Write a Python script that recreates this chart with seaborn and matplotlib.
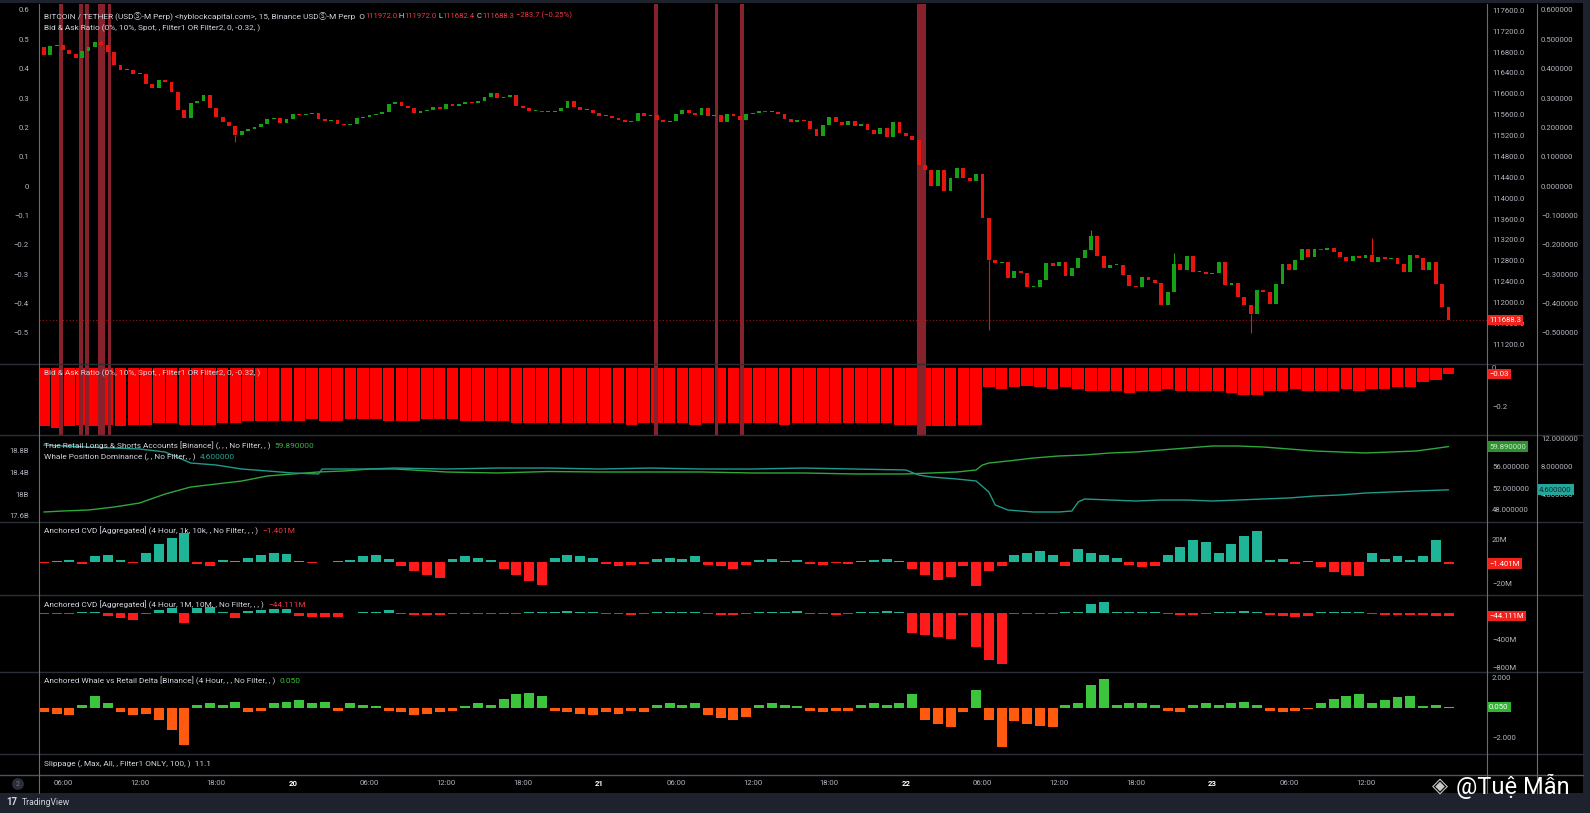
import numpy as np
import pandas as pd
import matplotlib
matplotlib.use("Agg")
import matplotlib.pyplot as plt
import matplotlib.transforms as mtrans
from matplotlib.lines import Line2D
from matplotlib.patches import Rectangle
import seaborn as sns

# ---------------- data (hours since 19th 00:00) ----------------
price_open_first = 116900.0
# 30-minute closes from t = 4.5 h onward
price_close = [
    116740, 116920, 116940, 116840, 116760, 116690, 116820, 116900,
    116990, 116940, 116800, 116550, 116460, 116460, 116380, 116380,
    116190, 116110, 116260, 116230, 116040, 115690, 115540, 115820,
    115860, 115980, 115730, 115560, 115460, 115380, 115210, 115290,
    115330, 115360, 115420, 115520, 115540, 115440, 115520, 115610,
    115590, 115610, 115630, 115520, 115480, 115500, 115420, 115400,
    115420, 115540, 115560, 115590, 115610, 115650, 115810, 115840,
    115770, 115730, 115630, 115670, 115690, 115750, 115710, 115810,
    115770, 115810, 115840, 115820, 115860, 115940, 116020, 115920,
    115940, 115980, 115770, 115730, 115670, 115670, 115650, 115650,
    115670, 115730, 115860, 115750, 115690, 115690, 115630, 115580,
    115580, 115540, 115500, 115460, 115480, 115630, 115580, 115590,
    115500, 115460, 115480, 115610, 115690, 115630, 115590, 115730,
    115580, 115590, 115460, 115610, 115580, 115500, 115610, 115630,
    115670, 115650, 115650, 115610, 115520, 115460, 115500, 115480,
    115330, 115190, 115400, 115560, 115460, 115400, 115480, 115380,
    115420, 115310, 115230, 115350, 115170, 115460, 115250, 115190,
    115120, 114640, 114540, 114230, 114540, 114140, 114390, 114580,
    114390, 114330, 114460, 113620, 112820, 112760, 112780, 112470,
    112610, 112570, 112300, 112300, 112430, 112760, 112700, 112780,
    112510, 112660, 112850, 113010, 113280, 112890, 112660, 112720,
    112720, 112530, 112320, 112300, 112490, 112430, 112380, 111950,
    112200, 112740, 112630, 112890, 112590, 112590, 112550, 112570,
    112780, 112340, 112380, 112110, 111950, 111780, 112240, 112200,
    111970, 112360, 112740, 112630, 112820, 113030, 112870, 113030,
    113010, 113050, 112970, 112870, 112800, 112890, 112850, 112910,
    112780, 112870, 112840, 112850, 112740, 112590, 112910, 112850,
    112630, 112780, 112360, 111920, 111670,
]
spike_times = [9.0, 19.5, 78.5, 86.5, 93.0, 99.0, 108.5]
spike_prices = [117030, 115080, 111470, 113390, 112950, 111420, 113240]

signal_start = [5.65, 7.25, 7.72, 8.74, 9.52, 52.28, 57.06, 59.00, 72.87]
signal_end = [5.98, 7.57, 8.03, 9.29, 9.76, 52.59, 57.29, 59.33, 73.58]

# hourly values from t = 4.5 h onward
bidask_ratio = [
    -0.30, -0.31, -0.30, -0.29, -0.30, -0.29, -0.30, -0.29,
    -0.29, -0.28, -0.28, -0.29, -0.29, -0.29, -0.28, -0.28,
    -0.27, -0.27, -0.27, -0.27, -0.27, -0.26, -0.27, -0.27,
    -0.26, -0.26, -0.26, -0.27, -0.27, -0.27, -0.26, -0.26,
    -0.26, -0.27, -0.27, -0.27, -0.27, -0.28, -0.28, -0.28,
    -0.28, -0.28, -0.28, -0.28, -0.28, -0.28, -0.29, -0.28,
    -0.28, -0.28, -0.28, -0.29, -0.28, -0.28, -0.28, -0.28,
    -0.28, -0.28, -0.29, -0.28, -0.28, -0.28, -0.28, -0.28,
    -0.28, -0.28, -0.28, -0.29, -0.29, -0.30, -0.30, -0.30,
    -0.29, -0.29, -0.10, -0.11, -0.10, -0.09, -0.10, -0.11,
    -0.10, -0.11, -0.12, -0.12, -0.12, -0.13, -0.12, -0.12,
    -0.11, -0.12, -0.12, -0.12, -0.12, -0.13, -0.14, -0.14,
    -0.12, -0.12, -0.11, -0.12, -0.12, -0.12, -0.11, -0.12,
    -0.11, -0.11, -0.10, -0.10, -0.07, -0.06, -0.03,
]

retail_t = [4.5, 6, 8, 10, 12, 14, 16, 18, 20, 22, 24, 26, 28, 30, 32, 36, 40, 44,
            48, 52, 56, 60, 64, 68, 72, 74, 76, 77.5, 78, 78.5, 80, 82, 84, 86, 88,
            90, 92, 94, 96, 98, 100, 102, 104, 106, 108, 110, 112, 114.5]
retail_v = [47.43, 47.62, 47.81, 48.38, 49.14, 50.86, 52.19, 52.76, 53.33, 54.29,
            54.67, 55.05, 55.24, 55.62, 55.62, 55.05, 54.86, 55.14, 55.05, 55.05,
            55.05, 54.86, 54.86, 54.67, 54.67, 54.86, 55.05, 55.43, 56.38, 56.76,
            57.14, 57.71, 58.10, 58.29, 58.67, 58.86, 59.24, 59.62, 60.00, 60.00,
            59.81, 59.43, 59.05, 58.86, 58.67, 58.86, 59.05, 59.89]

whale_t = [4.5, 6, 8, 10, 12, 14, 16, 18, 20, 22, 24, 26, 26.3, 28, 30, 32, 36, 40,
           44, 48, 52, 56, 60, 64, 68, 72, 73, 74, 76, 77.5, 78.5, 79, 80, 82, 84,
           85, 85.5, 86, 88, 90, 92, 94, 96, 98, 100, 102, 104, 106, 108, 110, 112, 114.5]
whale_v = [11.0, 10.86, 10.71, 10.57, 10.43, 10.0, 8.43, 8.14, 7.57, 7.29,
           7.0, 6.86, 7.57, 7.57, 7.57, 7.71, 7.57, 7.71, 7.71, 7.57,
           7.71, 7.57, 7.57, 7.71, 7.57, 7.43, 6.71, 6.43, 6.14, 5.86,
           4.29, 2.43, 1.71, 1.43, 1.43, 1.57, 2.86, 3.29, 3.14, 3.0,
           3.14, 3.14, 3.0, 3.14, 3.29, 3.43, 3.71, 3.86, 4.14, 4.29,
           4.43, 4.6]

cvd_small_m = [
    -1, 1, 2, -2, 5, 6, 2, -1, 8, 16, 22, 26, -2, -4, 2, 1,
    4, 6, 8, 7, 1, -1, 0, 1, 2, 5, 6, 3, -4, -8, -12, -15,
    3, 5, 4, 2, -6, -12, -17, -21, 4, 6, 5, 4, -2, -4, -3, -2,
    3, 4, 3, 5, -3, -4, -6, -3, 2, 3, 1, 2, -2, -3, -1, -2,
    1, 2, 3, 1, -6, -12, -16, -14, -4, -22, -8, -4, 6, 8, 10, 6,
    -4, 12, 8, 6, 4, -3, -5, -4, 6, 14, 20, 18, 8, 16, 24, 28,
    2, 3, -2, 1, -5, -9, -12, -13, 8, 3, 5, 2, 5, 20, -1.4,
]
cvd_large_m = [
    -20, -20, -15, 10, 12, -40, -80, -100, -20, 50, 70, -150, 80, 90, 10, -70,
    30, 50, 60, 60, -50, -60, -60, -60, 5, 10, 10, 50, -20, -30, -30, -30,
    -20, -20, -20, -20, -15, -20, 10, 15, 20, 25, 10, 20, -10, -20, -25, -10,
    10, 15, 20, 10, -20, -30, -25, -20, 10, 15, 20, 25, -15, -20, -30, -20,
    10, 20, 25, 15, -300, -330, -350, -380, -30, -500, -700, -760, -20, -15, -10, -10,
    10, 20, 140, 160, 10, 20, 15, 10, -20, -30, -25, -20, 15, 20, 25, 20,
    -30, -50, -55, -45, 10, 15, 20, 10, -20, -25, -30, -35, -30, -40, -44.1,
]
whale_delta = [
    -0.3, -0.4, -0.5, 0.2, 0.8, 0.3, -0.3, -0.5, -0.4, -0.8, -1.5, -2.5, 0.2, 0.3, 0.2, 0.4,
    -0.3, -0.2, 0.3, 0.4, 0.5, 0.3, 0.4, -0.2, 0.3, 0.2, 0.1, -0.2, -0.3, -0.5, -0.4, -0.3,
    -0.2, 0.1, 0.3, 0.2, 0.6, 0.9, 1.0, 0.8, -0.2, -0.3, -0.4, -0.5, -0.3, -0.4, -0.2, -0.3,
    0.2, 0.3, 0.2, 0.3, -0.5, -0.7, -0.8, -0.6, 0.2, 0.3, 0.2, 0.1, -0.2, -0.3, -0.2, -0.2,
    0.2, 0.3, 0.2, 0.3, 0.9, -0.8, -1.1, -1.3, -0.3, 1.2, -0.8, -2.6, -0.9, -1.1, -1.2, -1.3,
    0.2, 0.3, 1.5, 1.9, 0.2, 0.3, 0.3, 0.2, -0.2, -0.3, 0.2, 0.3, 0.2, 0.3, 0.4, 0.2,
    -0.2, -0.3, -0.2, -0.1, 0.3, 0.6, 0.8, 0.9, 0.3, 0.5, 0.7, 0.8, 0.1, 0.2, 0.05,
]

time_ticks = [6, 12, 18, 24, 30, 36, 42, 48, 54, 60, 66, 72, 78, 84, 90, 96, 102, 108]
time_labels = ["06:00", "12:00", "18:00", "20", "06:00", "12:00", "18:00", "21",
               "06:00", "12:00", "18:00", "22", "06:00", "12:00", "18:00", "23",
               "06:00", "12:00"]
price_ticks = list(range(111200, 117601, 400))
ratio_ticks = [0.6, 0.5, 0.4, 0.3, 0.2, 0.1, 0.0, -0.1, -0.2, -0.3, -0.4, -0.5]

# ---------------- styling ----------------
W, H = 1590, 813
sns.set_theme(style="dark")
FONT = ["Roboto", "DejaVu Sans", "Noto Sans CJK SC"]
plt.rcParams["font.family"] = FONT
FS = 5.6      # axis labels
FT = 5.95     # legend / title texts
TXT = "#d1d4dc"
AX_TXT = "#b2b5be"
UP, DOWN = "#16a016", "#e8150f"
SIG = "#86222c"
SEP = "#2a2e39"
VLINE = "#6a6d78"
XL = (4.119, 117.51)
MINUS = "\u2212"

fig = plt.figure(figsize=(W / 100, H / 100), dpi=100, facecolor="#1e222d")
fig.add_artist(Rectangle((0, 1 - 793 / H), 1583 / W, 790 / H, transform=fig.transFigure,
                         facecolor="black", edgecolor="none", zorder=-10))


def px_axes(x0, y0, x1, y1):
    a = fig.add_axes([x0 / W, 1 - y1 / H, (x1 - x0) / W, (y1 - y0) / H])
    a.set_facecolor("none")
    for s in a.spines.values():
        s.set_visible(False)
    a.grid(False)
    a.set_xticks([])
    a.set_yticks([])
    a.set_xlim(*XL)
    return a


def fmt(v, nd):
    s = f"{abs(v):.{nd}f}"
    return (MINUS + s) if v < 0 else s


def right_ticks(a, ticks, labels, pad=3.6):
    a.yaxis.tick_right()
    a.set_yticks(ticks)
    a.set_yticklabels(labels)
    a.tick_params(axis="y", length=0, pad=pad, labelsize=FS, colors=AX_TXT)


def left_ticks(a, ticks, labels, pad=7.2):
    a.yaxis.tick_left()
    a.set_yticks(ticks)
    a.set_yticklabels(labels)
    a.tick_params(axis="y", length=0, pad=pad, labelsize=FS, colors=AX_TXT)


def value_box(a, y, text, fc, tc="white", xpx=1489):
    tr = mtrans.blended_transform_factory(fig.transFigure, a.transData)
    a.text(xpx / W, y, text, transform=tr, ha="left", va="center", fontsize=FS, color=tc,
           bbox=dict(boxstyle="square,pad=0.3", fc=fc, ec="none"), zorder=30, clip_on=False)


renderer = fig.canvas.get_renderer()


def rich(xpx, ypx, parts, fs=FT):
    x = xpx
    for part in parts:
        s, c = part[0], part[1]
        size = part[2] if len(part) > 2 else fs
        t = fig.text(x / W, 1 - ypx / H, s, color=c, fontsize=size, ha="left", va="center")
        x += t.get_window_extent(renderer).width


# ---------------- main price pane ----------------
ax = px_axes(39, 4, 1487, 364)
ax.set_ylim(110824, 117720)
close = np.array(price_close, float)
tc = 4.5 + 0.5 * np.arange(len(close))
opn = np.r_[price_open_first, close[:-1]]
lo = np.minimum(opn, close)
hi = np.maximum(opn, close)
hgt = np.maximum(hi - lo, 12)
up = close >= opn
for s, e in zip(signal_start, signal_end):
    ax.axvspan(s, e, color=SIG, lw=0, zorder=0.5)
ax.bar(tc[up], hgt[up], bottom=lo[up], width=0.3, color=UP, linewidth=0, zorder=2)
ax.bar(tc[~up], hgt[~up], bottom=lo[~up], width=0.3, color=DOWN, linewidth=0, zorder=2)
for st, sp in zip(spike_times, spike_prices):
    i = int(np.argmin(np.abs(tc - st)))
    col = UP if up[i] else DOWN
    end = lo[i] if sp < lo[i] else hi[i]
    ax.vlines(tc[i], min(sp, end), max(sp, end), color=col, lw=0.8, zorder=2)
ax.axhline(close[-1], color="#a01818", lw=0.8, ls=(0, (1, 2)), zorder=1)
right_ticks(ax, price_ticks, [f"{v:.1f}" for v in price_ticks])
value_box(ax, close[-1], f"{close[-1] + 18.3:.1f}", "#f0221c")

axL = px_axes(39, 4, 1487, 364)
axL.set_ylim(-0.6056, 0.6204)
left_ticks(axL, ratio_ticks, ["0" if v == 0 else fmt(v, 1) for v in ratio_ticks])
axR2 = px_axes(39, 4, 1537, 364)
axR2.set_ylim(-0.6056, 0.6204)
right_ticks(axR2, ratio_ticks, [fmt(v, 6) for v in ratio_ticks], pad=2.9)

RV = "#f23645"
rich(44, 15.5, [("BITCOIN / TETHER (USD\u24c8-M Perp) <hyblockcapital.com>, 15, Binance USD\u24c8-M Perp  O", TXT),
                ("111972.0", RV, FS), (" H", TXT, FS), ("111972.0", RV, FS),
                (" L", TXT, FS), ("111682.4", RV, FS), (" C", TXT, FS), ("111688.3", RV, FS),
                (" " + MINUS + "283.7 (" + MINUS + "0.25%)", RV, FS)])
rich(44, 28, [("Bid & Ask Ratio (0%, 10%, Spot, , Filter1 OR Filter2, 0, -0.32, )", TXT)])

# ---------------- bid/ask ratio pane ----------------
hb = 4.5 + np.arange(len(bidask_ratio))
ax2 = px_axes(39, 364, 1487, 435)
ax2.set_ylim(-0.3436, 0.0205)
ax2.bar(hb, bidask_ratio, width=0.9, color="#ff0000", linewidth=0, zorder=2)
for s, e in zip(signal_start, signal_end):
    ax2.axvspan(s, e, color=SIG, lw=0, zorder=3)
right_ticks(ax2, [0, -0.2], ["0", MINUS + "0.2"])
value_box(ax2, bidask_ratio[-1], fmt(bidask_ratio[-1], 2), "#f0221c")
rich(44, 373, [("Bid & Ask Ratio (0%, 10%, Spot, , Filter1 OR Filter2, 0, -0.32, )", TXT)])

# ---------------- retail / whale pane ----------------
ax3 = px_axes(39, 435, 1487, 522)
ax3.set_ylim(45.524, 62.095)
sns.lineplot(x=retail_t, y=retail_v, ax=ax3, color="#2ea83c", linewidth=1.0)
ax3.set_xlim(*XL)
ax3.set_xlabel("")
ax3.set_ylabel("")
right_ticks(ax3, [48, 52, 56], ["48.000000", "52.000000", "56.000000"])
value_box(ax3, retail_v[-1], "59.890000", "#2f8f32", tc="#c8f0c8")

ax3w = px_axes(39, 435, 1487, 522)
ax3w.set_ylim(0, 12.43)
sns.lineplot(x=whale_t, y=whale_v, ax=ax3w, color="#1f9a8a", linewidth=1.0)
ax3w.set_xlim(*XL)
ax3w.set_xlabel("")
ax3w.set_ylabel("")
ax3w.set_yticks([])

ax3r2 = px_axes(39, 435, 1537, 522)
ax3r2.set_ylim(0, 12.43)
right_ticks(ax3r2, [4, 8, 12], ["4.000000", "8.000000", "12.000000"], pad=2.9)
value_box(ax3r2, whale_v[-1], "4.600000", "#26a69a", tc="#0e2f2b", xpx=1539)

ax3l = px_axes(39, 435, 1487, 522)
ax3l.set_ylim(17.489, 19.095)
left_ticks(ax3l, [17.6, 18.0, 18.4, 18.8], ["17.6B", "18B", "18.4B", "18.8B"])
rich(44, 446, [("True Retail Longs & Shorts Accounts [Binance] (, , , No Filter, , )  ", TXT),
               ("59.890000", "#3cb043")])
rich(44, 457, [("Whale Position Dominance (, , No Filter, , )  ", TXT), ("4.600000", "#26a69a")])

# ---------------- anchored CVD (small) ----------------
TEAL, RED = "#1fb497", "#ff1b1b"
cs = np.array(cvd_small_m, float)
ax4 = px_axes(39, 522, 1487, 595)
ax4.set_ylim(-30, 36.36)
hx = 4.5 + np.arange(len(cs))
ax4.bar(hx, cs, width=0.78, color=np.where(cs >= 0, TEAL, RED), linewidth=0)
right_ticks(ax4, [20, -20], ["20M", MINUS + "20M"])
value_box(ax4, cs[-1], MINUS + "1.401M", "#f0221c")
rich(44, 531, [("Anchored CVD [Aggregated] (4 Hour, 1k, 10k, , No Filter, , , )  ", TXT),
               (MINUS + "1.401M", "#f23645")])

# ---------------- anchored CVD (large) ----------------
cl = np.array(cvd_large_m, float)
ax5 = px_axes(39, 595, 1487, 672)
ax5.set_ylim(-874, 266)
hx = 4.5 + np.arange(len(cl))
ax5.bar(hx, cl, width=0.78, color=np.where(cl >= 0, TEAL, RED), linewidth=0)
right_ticks(ax5, [-400, -800], [MINUS + "400M", MINUS + "800M"])
value_box(ax5, cl[-1], MINUS + "44.111M", "#f0221c")
rich(44, 605, [("Anchored CVD [Aggregated] (4 Hour, 1M, 10M, , No Filter, , , )  ", TXT),
               (MINUS + "44.111M", "#f23645")])

# ---------------- whale vs retail delta ----------------
wd = np.array(whale_delta, float)
ax6 = px_axes(39, 672, 1487, 754)
ax6.set_ylim(-3.083, 2.383)
hx = 4.5 + np.arange(len(wd))
ax6.bar(hx, wd, width=0.78, color=np.where(wd >= 0, "#3cc43c", "#ff5a10"), linewidth=0)
right_ticks(ax6, [2, -2], ["2.000", MINUS + "2.000"])
value_box(ax6, wd[-1], "0.050", "#2fb52f")
rich(44, 681, [("Anchored Whale vs Retail Delta [Binance] (4 Hour, , , No Filter, , )  ", TXT),
               ("0.050", "#3cc43c")])

# ---------------- slippage pane + time axis ----------------
ax7 = px_axes(39, 754, 1487, 775)
ax7.set_xticks(time_ticks)
ax7.set_xticklabels(time_labels)
ax7.tick_params(axis="x", length=0, pad=3.8, labelsize=FS, colors=AX_TXT)
for lab in ax7.get_xticklabels():
    if ":" not in lab.get_text():
        lab.set_color("white")
        lab.set_fontweight("bold")
rich(44, 764, [("Slippage (, Max, All, , Filter1 ONLY, 100, )  11.1", TXT)])

# ---------------- frame lines ----------------
for y in [364, 435, 522, 595, 672, 754]:
    fig.add_artist(Line2D([0, 1583 / W], [1 - y / H] * 2, transform=fig.transFigure, color=SEP, lw=1))
fig.add_artist(Line2D([0, 1583 / W], [1 - 775 / H] * 2, transform=fig.transFigure, color="#50535e", lw=1))
for x in [39, 1487, 1537]:
    fig.add_artist(Line2D([x / W] * 2, [1 - 793 / H, 1 - 4 / H], transform=fig.transFigure, color=VLINE, lw=0.8))

fig.text(18 / W, 1 - 784 / H, "2", fontsize=5, color="#787b86", ha="center", va="center",
         bbox=dict(boxstyle="circle,pad=0.35", fc="#2a2e39", ec="none"))
fig.text(6 / W, 1 - 802 / H, "17", fontsize=7, fontweight="bold", color="#d1d4dc", ha="left", va="center")
fig.text(22 / W, 1 - 802 / H, "TradingView", fontsize=6.2, color="#d1d4dc", ha="left", va="center")
fig.text(1440 / W, 1 - 786 / H, "\u25c8", fontsize=15, color="#c8c8c8", ha="center", va="center",
         family=["DejaVu Sans"])
fig.text(1456 / W, 1 - 786 / H, "@Tu\u1ec7 M\u1eabn", fontsize=17, color="white", ha="left", va="center")

fig.savefig("out.png", dpi=100, facecolor=fig.get_facecolor())
